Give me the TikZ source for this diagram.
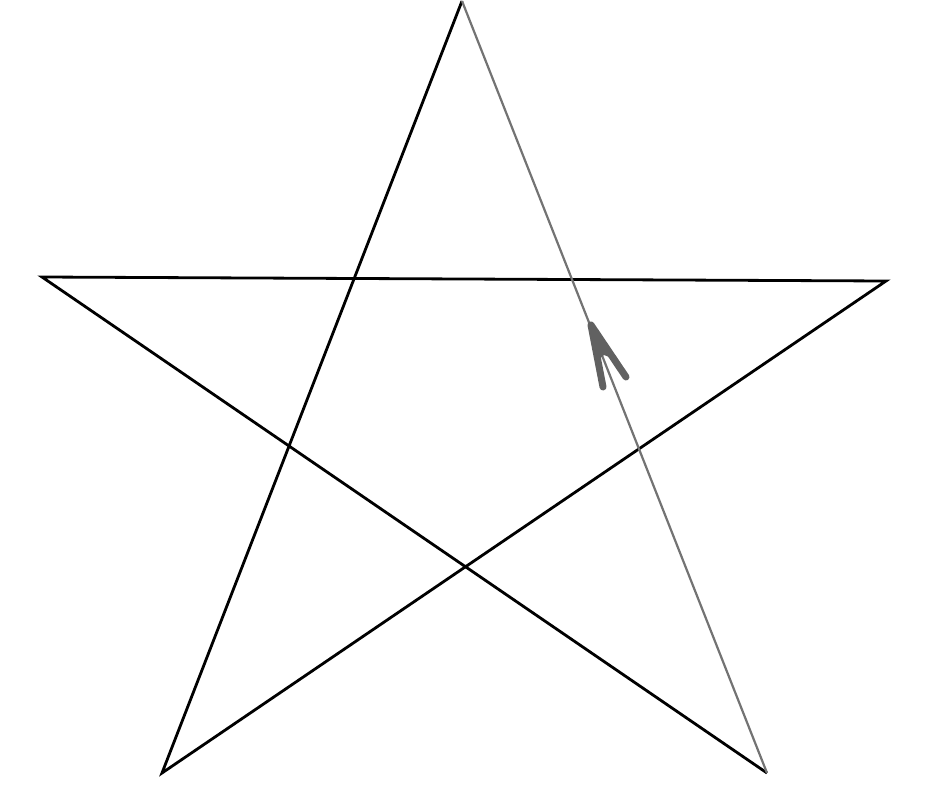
\documentclass[tikz,border=0pt]{standalone}
\begin{document}
\begin{tikzpicture}[x=1pt,y=-1pt,
  edge/.style={line width=2.8pt,black,line join=miter},
  grayedge/.style={line width=2.2pt,color=black!55},
  barb/.style={line width=7pt,color=black!62,line cap=round,line join=round}]
\useasboundingbox (0,0) rectangle (928,784);
\coordinate (T) at (462,1);
\coordinate (L) at (42,277);
\coordinate (R) at (886,281);
\coordinate (BL) at (162,773);
\coordinate (BR) at (767,773);
\draw[edge] (BR) -- (L) -- (R) -- (BL) -- (T);
\draw[grayedge] (BR) -- (T);
\coordinate (tip) at (591,325);
\coordinate (b1) at (603,387);
\coordinate (b2) at (626,377);
\coordinate (mid) at (604,355);
\draw[barb] (b1) -- (tip) -- (b2);
\fill[black!62] (tip) -- (598,360) -- (mid) -- (612,358) -- cycle;
\end{tikzpicture}
\end{document}
